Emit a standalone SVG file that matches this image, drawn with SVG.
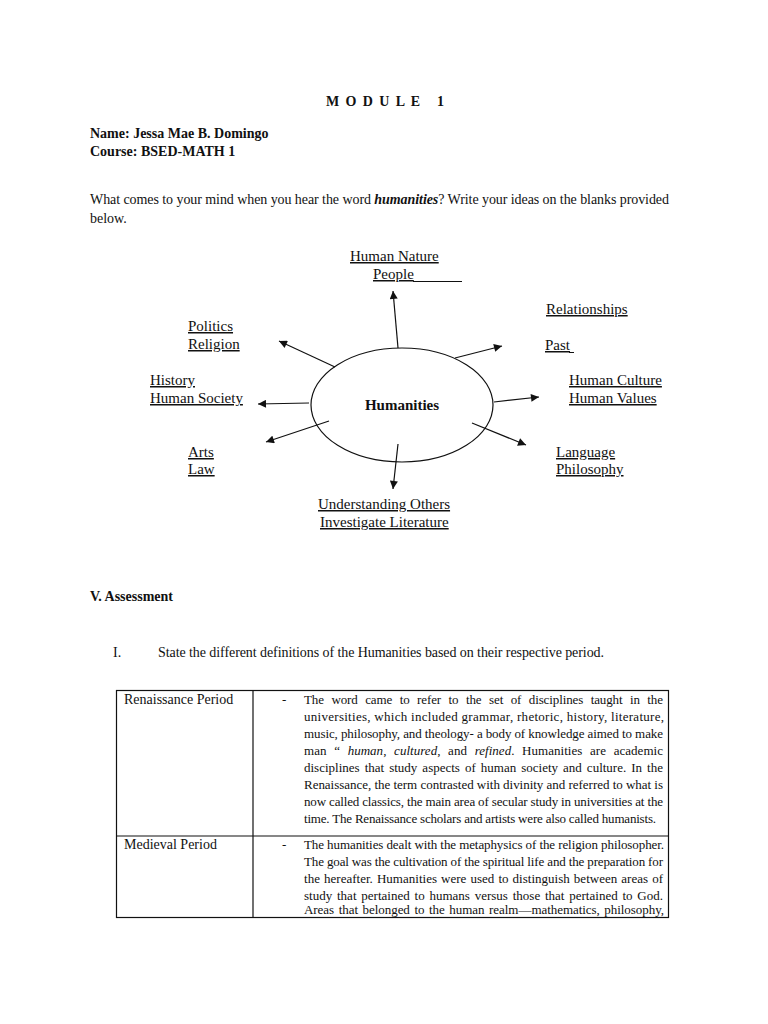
<svg xmlns="http://www.w3.org/2000/svg" width="768" height="1024" viewBox="0 0 768 1024">
<defs>
<marker id="ah" viewBox="0 0 10 10" refX="10" refY="5" markerWidth="9" markerHeight="8" markerUnits="userSpaceOnUse" orient="auto">
<path d="M0,0 L10,5 L0,10 z" fill="#111"/>
</marker>
<style>
text{font-family:"Liberation Serif","Times New Roman",serif;fill:#111}
.h{font-size:14px;font-weight:bold}
.p{font-size:14px}
.lab{font-size:15px;text-decoration:underline}
.c{font-size:14px}
.t{font-size:13px}
.conn line{stroke:#111;stroke-width:1.2;marker-end:url(#ah)}
.ul{stroke:#111;stroke-width:1}
.tb{stroke:#111;stroke-width:1.2;fill:none}
</style>
</defs>
<rect width="768" height="1024" fill="#fff"/>

<g id="header">
<text class="h" x="326" y="106" textLength="94" lengthAdjust="spacing">M O D U L E</text>
<text class="h" x="437" y="106">1</text>
<text class="h" x="90" y="138">Name: Jessa Mae B. Domingo</text>
<text class="h" x="90" y="156">Course: BSED-MATH 1</text>
<text class="p" x="90" y="204" textLength="579" lengthAdjust="spacing">What comes to your mind when you hear the word <tspan font-style="italic" font-weight="bold">humanities</tspan>? Write your ideas on the blanks provided</text>
<text class="p" x="90" y="223">below.</text>
</g>

<g id="connectors" class="conn">
<line x1="398" y1="348" x2="393" y2="291"/>
<line x1="335" y1="367" x2="279" y2="341"/>
<line x1="455" y1="358" x2="502" y2="346"/>
<line x1="309" y1="403" x2="258" y2="404"/>
<line x1="494" y1="402" x2="539" y2="397"/>
<line x1="329" y1="421" x2="266" y2="442"/>
<line x1="472" y1="423" x2="526" y2="445"/>
<line x1="398" y1="444" x2="393" y2="489"/>
</g>

<g id="node-humanities">
<ellipse cx="402" cy="405" rx="91" ry="57" fill="none" stroke="#111" stroke-width="1.2"/>
<text x="402" y="410" text-anchor="middle" style="font-size:15px;font-weight:bold">Humanities</text>
</g>

<g id="node-top">
<text class="lab" x="350" y="261">Human Nature</text>
<text class="lab" x="373" y="279">People</text>
<line class="ul" x1="413" y1="281.5" x2="462" y2="281.5"/>
</g>
<g id="node-relationships">
<text class="lab" x="546" y="314">Relationships</text>
<text class="lab" x="545" y="350">Past</text>
<line class="ul" x1="569" y1="352.5" x2="574" y2="352.5"/>
</g>
<g id="node-politics">
<text class="lab" x="188" y="331">Politics</text>
<text class="lab" x="188" y="349">Religion</text>
</g>
<g id="node-history">
<text class="lab" x="150" y="385">History</text>
<text class="lab" x="150" y="403">Human Society</text>
</g>
<g id="node-culture">
<text class="lab" x="569" y="385">Human Culture</text>
<text class="lab" x="569" y="403">Human Values</text>
</g>
<g id="node-arts">
<text class="lab" x="188" y="457">Arts</text>
<text class="lab" x="188" y="474">Law</text>
</g>
<g id="node-language">
<text class="lab" x="556" y="457">Language</text>
<text class="lab" x="556" y="474">Philosophy</text>
</g>
<g id="node-bottom">
<text class="lab" x="318" y="509">Understanding Others</text>
<text class="lab" x="320" y="527">Investigate Literature</text>
</g>

<g id="assessment">
<text class="h" x="90" y="601">V. Assessment</text>
<text class="p" x="113" y="657">I.</text>
<text class="p" x="158" y="657" textLength="446" lengthAdjust="spacing">State the different definitions of the Humanities based on their respective period.</text>
</g>

<g id="table">
<rect class="tb" x="116.5" y="690.5" width="552" height="227"/>
<line class="tb" x1="116.5" y1="836" x2="668.5" y2="836"/>
<line class="tb" x1="253" y1="690.5" x2="253" y2="917.5"/>
<text class="c" x="124" y="704">Renaissance Period</text>
<text class="t" x="282" y="704">-</text>
<text class="t" x="304" y="704" word-spacing="4.4" textLength="359" lengthAdjust="spacing">The word came to refer to the set of disciplines taught in the</text>
<text class="t" x="304" y="721" textLength="360" lengthAdjust="spacing">universities, which included grammar, rhetoric, history, literature,</text>
<text class="t" x="304" y="738" textLength="359" lengthAdjust="spacing">music, philosophy, and theology- a body of knowledge aimed to make</text>
<text class="t" x="304" y="755" word-spacing="4.4" textLength="359" lengthAdjust="spacing">man “ <tspan font-style="italic">human</tspan>, <tspan font-style="italic">cultured</tspan>, and <tspan font-style="italic">refined</tspan>. Humanities are academic</text>
<text class="t" x="304" y="772" word-spacing="1.8" textLength="359" lengthAdjust="spacing">disciplines that study aspects of human society and culture. In the</text>
<text class="t" x="304" y="789" textLength="359" lengthAdjust="spacing">Renaissance, the term contrasted with divinity and referred to what is</text>
<text class="t" x="304" y="806" textLength="359" lengthAdjust="spacing">now called classics, the main area of secular study in universities at the</text>
<text class="t" x="304" y="823" textLength="352" lengthAdjust="spacing">time. The Renaissance scholars and artists were also called humanists.</text>
<text class="c" x="124" y="849">Medieval Period</text>
<text class="t" x="282" y="849">-</text>
<text class="t" x="304" y="849" textLength="360" lengthAdjust="spacing">The humanities dealt with the metaphysics of the religion philosopher.</text>
<text class="t" x="304" y="866" textLength="359" lengthAdjust="spacing">The goal was the cultivation of the spiritual life and the preparation for</text>
<text class="t" x="304" y="883" word-spacing="0.8" textLength="359" lengthAdjust="spacing">the hereafter. Humanities were used to distinguish between areas of</text>
<text class="t" x="304" y="900" word-spacing="1.5" textLength="359" lengthAdjust="spacing">study that pertained to humans versus those that pertained to God.</text>
<text class="t" x="304" y="914" word-spacing="1.4" textLength="360" lengthAdjust="spacing">Areas that belonged to the human realm—mathematics, philosophy,</text>
</g>
</svg>
